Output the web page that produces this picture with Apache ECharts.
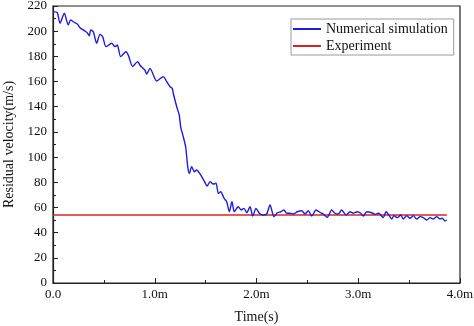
<!DOCTYPE html>
<html>
<head>
<meta charset="utf-8">
<script src="https://cdn.jsdelivr.net/npm/echarts@6/dist/echarts.min.js"></script>
<style>
  html, body { margin: 0; padding: 0; background: #fff; }
  #chart { width: 474px; height: 326px; }
</style>
</head>
<body>
<div id="chart"></div>
<script>
// Residual velocity versus time (time in ms)
var simTime = [0.0, 0.042, 0.069, 0.111, 0.150, 0.174, 0.200, 0.239, 0.265, 0.308, 0.337, 0.357, 0.371, 0.396, 0.429, 0.462, 0.488, 0.521, 0.577, 0.609, 0.632, 0.665, 0.717, 0.740, 0.783, 0.832, 0.855, 0.904, 0.921, 0.953, 1.019, 1.058, 1.084, 1.117, 1.150, 1.172, 1.182, 1.216, 1.241, 1.255, 1.281, 1.304, 1.324, 1.340, 1.363, 1.389, 1.412, 1.445, 1.484, 1.516, 1.543, 1.575, 1.602, 1.625, 1.648, 1.681, 1.707, 1.733, 1.759, 1.782, 1.821, 1.848, 1.877, 1.904, 1.936, 1.963, 1.995, 2.028, 2.067, 2.100, 2.133, 2.172, 2.204, 2.238, 2.270, 2.297, 2.329, 2.362, 2.401, 2.444, 2.477, 2.509, 2.543, 2.585, 2.631, 2.657, 2.696, 2.739, 2.771, 2.804, 2.837, 2.880, 2.919, 2.951, 2.991, 3.024, 3.050, 3.083, 3.132, 3.165, 3.197, 3.214, 3.246, 3.273, 3.305, 3.329, 3.351, 3.384, 3.417, 3.443, 3.476, 3.509, 3.541, 3.574, 3.607, 3.640, 3.673, 3.705, 3.738, 3.771, 3.803, 3.825, 3.853, 3.869];
var simVelocity = [215.5, 214.7, 206.3, 214.2, 205, 209, 207.5, 205.7, 202.8, 200.4, 198.8, 196.4, 201, 199.6, 190.4, 197.5, 195.7, 187.7, 190.4, 187.7, 189, 179.8, 183.7, 181, 172, 175.8, 173, 169, 166, 170.5, 160.4, 162.6, 163.9, 160, 156, 154.6, 150.7, 140, 133.4, 124, 116, 108, 92.4, 87, 92.4, 88.4, 89.8, 86.6, 81.3, 77, 80.5, 78.6, 79.2, 71.2, 72.5, 67.3, 64.6, 56.6, 64.6, 56.6, 60.6, 58, 59.3, 55.8, 60.6, 53.2, 59.3, 55.4, 54, 54.8, 62, 52.7, 55.8, 56.6, 58, 55.4, 55.4, 54.8, 56.6, 57.4, 54.8, 57.4, 53.2, 58, 55.8, 54.8, 52.2, 58, 55.4, 54.8, 58, 54, 56.6, 55.4, 56.6, 55.4, 53.2, 56.6, 55.8, 54.5, 55.4, 54.6, 51.9, 56.6, 53.5, 50.8, 53.5, 51.9, 54, 50.8, 53.5, 51.4, 53.5, 50.8, 52.7, 51.9, 50, 51.9, 50.8, 52.7, 50.8, 51.4, 49.2, 50];
var expTime = [0.0, 3.87];
var expVelocity = [54, 54];

var seriesNames = ['Numerical simulation', 'Experiment'];
var xTickLabel = function (v) { return v === 0 ? '0.0' : v.toFixed(1) + 'm'; };

function pairs(xs, ys) {
  return xs.map(function (x, i) { return [x, ys[i]]; });
}

var serif = '"Liberation Serif", "Times New Roman", serif';
var axisColor = '#222';

var chart = echarts.init(document.getElementById('chart'), null, { renderer: 'canvas' });
chart.setOption({
  animation: false,
  backgroundColor: '#fff',
  textStyle: { fontFamily: serif },
  grid: {
    left: 53, right: 14, top: 6, bottom: 43,
    containLabel: false,
    outerBoundsMode: 'none',
    show: true, borderColor: axisColor, borderWidth: 1.2
  },
  legend: {
    orient: 'vertical',
    left: 291, top: 19,
    width: 159,
    data: seriesNames,
    icon: 'rect',
    itemWidth: 28, itemHeight: 2, itemGap: 3,
    padding: [3, 6, 2, 2],
    borderColor: '#9a9a9a', borderWidth: 1,
    textStyle: { fontFamily: serif, fontSize: 14, color: '#111', lineHeight: 11 }
  },
  xAxis: {
    type: 'value',
    min: 0, max: 4, interval: 1,
    name: 'Time(s)',
    nameLocation: 'middle',
    nameGap: 27,
    nameTextStyle: { fontFamily: serif, fontSize: 14, color: '#111' },
    axisLine: { lineStyle: { color: axisColor, width: 1.2 } },
    axisTick: { inside: true, length: 5, lineStyle: { color: axisColor } },
    minorTick: { show: true, splitNumber: 2, length: 3, lineStyle: { color: axisColor } },
    axisLabel: { formatter: xTickLabel, fontFamily: serif, fontSize: 13, color: '#111', margin: 5 },
    splitLine: { show: false }
  },
  yAxis: {
    type: 'value',
    min: 0, max: 220, interval: 20,
    name: 'Residual velocity(m/s)',
    nameLocation: 'middle',
    nameGap: 36,
    nameTextStyle: { fontFamily: serif, fontSize: 14, color: '#111' },
    axisLine: { show: true, lineStyle: { color: axisColor, width: 1.2 } },
    axisTick: { show: true, inside: true, length: 5, lineStyle: { color: axisColor } },
    minorTick: { show: true, splitNumber: 2, length: 3, lineStyle: { color: axisColor } },
    axisLabel: { fontFamily: serif, fontSize: 13, color: '#111', margin: 6 },
    splitLine: { show: false }
  },
  series: [
    {
      name: seriesNames[0],
      type: 'line',
      data: pairs(simTime, simVelocity),
      showSymbol: false,
      symbol: 'none',
      smooth: 0.25,
      lineStyle: { color: '#1c1ce0', width: 1.4 },
      itemStyle: { color: '#1c1ce0' },
      z: 3
    },
    {
      name: seriesNames[1],
      type: 'line',
      data: pairs(expTime, expVelocity),
      showSymbol: false,
      symbol: 'none',
      lineStyle: { color: '#d62424', width: 1.6 },
      itemStyle: { color: '#d62424' },
      z: 2
    }
  ]
});
</script>
</body>
</html>
